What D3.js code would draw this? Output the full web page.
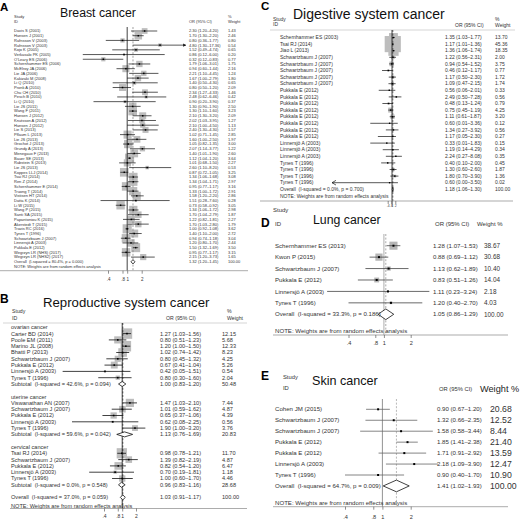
<!DOCTYPE html>
<html>
<head>
<meta charset="utf-8">
<script src="https://cdn.jsdelivr.net/npm/d3@7"></script>
<style>
  body { margin: 0; background: #fff; }
  text { font-family: "Liberation Sans", Arial, sans-serif; white-space: pre; }
</style>
</head>
<body>
<div id="chart"></div>
<script>
// ---- data ----
const orTicks = [0.4, 0.8, 1, 2];
const orTickLabels = [".4", ".8", "1", "2"];
const noteText = "NOTE: Weights are from random effects analysis";

// A  Breast cancer
const breastStudies = ["Davis S (2001)", "Hansen J (2001)", "Rafnsson V (2003)", "Rafnsson V (2003)", "Kojo K (2005)",
  "Verkasalo PK (2005)", "O'Leary ES (2006)", "Schernhammer ES (2006)", "McElroy JA (2006)", "Lie JA (2006)",
  "Kakizaki M (2008)", "Li Q (2010)", "Pronk A (2010)", "Chu CH (2010)", "Pesch B (2010)", "Li Q (2010)",
  "Lie JS (2011)", "Wang F (2011)", "Hansen J (2012)", "Knutsson A (2012)", "Hansen J (2012)", "Lie S (2013)",
  "Pflaum L (2013)", "Lie JS (2013)", "Grochot J (2013)", "Grundy A (2013)", "Menegaux F (2013)", "Bauer SE (2013)",
  "Rabstein S (2013)", "Lie JS (2013)", "Koppes LLJ (2014)", "Tsai RJ (2014)", "Ren Z (2014)",
  "Schernhammer E (2014)", "Truong T (2014)", "Vistisen HT (2014)", "Datta K (2014)", "Li W (2015)",
  "Wang P (2015)", "Santi SA (2015)", "Papantoniou K (2015)", "Akerstedt T (2015)", "Travis RC (2016)",
  "Tynes T (1996)", "Schwartzbaum J (2007)", "Linnersjö A (2003)", "Pukkala E (2012)",
  "Wegrzyn LR (NHS) (2017)", "Wegrzyn LR (NHS2) (2017)"];
const breastOR = [2.30, 1.70, 0.80, 4.80, 1.52, 0.86, 0.32, 1.79, 0.94, 2.21, 1.67, 1.40, 0.80, 2.34, 2.48, 0.90,
  1.30, 1.30, 2.10, 2.02, 2.10, 2.40, 1.02, 1.60, 1.05, 2.07, 1.40, 1.12, 1.01, 2.60, 0.87, 1.34, 1.34, 0.95,
  1.33, 1.58, 1.51, 0.73, 1.34, 1.70, 1.22, 1.70, 1.00, 1.40, 0.94, 1.20, 1.50, 0.95, 2.15];
const breastLo = [1.20, 1.30, 0.36, 1.30, 0.49, 0.12, 0.12, 1.06, 0.60, 1.10, 1.00, 0.50, 0.50, 1.27, 0.62, 0.20,
  0.90, 1.10, 1.30, 1.03, 1.00, 1.30, 0.71, 1.00, 0.82, 1.14, 1.01, 1.04, 0.68, 1.10, 0.72, 1.06, 1.04, 0.77,
  1.00, 1.20, 0.28, 0.58, 1.06, 1.04, 0.82, 1.03, 0.92, 1.10, 0.74, 0.80, 1.32, 0.77, 1.20];
const breastHi = [4.20, 2.20, 1.77, 17.36, 4.74, 6.00, 0.83, 3.01, 1.44, 4.45, 2.79, 4.30, 1.20, 4.33, 6.46, 3.90,
  1.90, 1.60, 3.20, 3.95, 4.50, 4.30, 1.45, 2.50, 1.35, 3.77, 1.90, 1.20, 1.50, 8.20, 1.05, 1.68, 1.71, 1.17,
  1.72, 2.20, 7.60, 0.92, 1.72, 2.79, 1.81, 2.80, 1.08, 2.00, 1.18, 1.70, 1.69, 1.17, 3.73];
const breastWeight = [1.43, 2.46, 0.80, 0.54, 0.65, 0.20, 0.77, 1.75, 2.16, 1.24, 1.80, 0.65, 2.09, 1.46, 0.42, 0.37,
  2.50, 3.23, 2.09, 1.27, 1.13, 1.57, 2.85, 1.97, 3.00, 1.22, 2.60, 3.64, 2.27, 0.53, 3.25, 3.08, 2.97, 3.16,
  2.91, 2.86, 0.28, 3.05, 2.98, 1.87, 2.27, 1.79, 3.62, 2.72, 3.04, 2.44, 3.50, 3.15, 1.65];
const breastOverallLabel = "Overall  (I-squared = 80.4%, p = 0.000)";
const breastOverall = [1.32, 1.20, 1.45, 100.00];

// B  Reproductive system cancer
const reproGroups = ["ovarian cancer", "uterine cancer", "cervical cancer"];
const reproGroupOf = [0, 0, 0, 0, 0, 0, 0, 0, 1, 1, 1, 1, 1, 2, 2, 2, 2, 2];
const reproStudies = ["Carter BD (2014)", "Poole EM (2011)", "Marino JL (2008)", "Bhatti P (2013)",
  "Schwartzbaum J (2007)", "Pukkala E (2012)", "Linnersjö A (2003)", "Tynes T (1996)",
  "Viswanathan AN (2007)", "Schwartzbaum J (2007)", "Pukkala E (2012)", "Linnersjö A (2003)", "Tynes T (1996)",
  "Tsai RJ (2014)", "Schwartzbaum J (2007)", "Pukkala E (2012)", "Linnersjö A (2003)", "Tynes T (1996)"];
const reproOR = [1.27, 0.80, 1.20, 1.02, 0.80, 0.67, 0.42, 0.80, 1.47, 1.01, 0.65, 0.62, 1.90, 0.98, 1.39, 0.82, 0.70, 1.00];
const reproLo = [1.03, 0.51, 1.00, 0.74, 0.45, 0.41, 0.05, 0.30, 1.03, 0.59, 0.37, 0.08, 1.00, 0.78, 0.82, 0.54, 0.19, 0.60];
const reproHi = [1.56, 1.23, 1.50, 1.42, 1.32, 1.04, 1.51, 1.60, 2.10, 1.62, 1.06, 2.25, 3.20, 1.21, 2.19, 1.20, 1.81, 1.70];
const reproWeight = [12.15, 5.68, 12.33, 8.23, 4.25, 5.26, 0.54, 2.04, 7.44, 4.87, 4.39, 0.56, 3.76, 11.70, 4.87, 6.47, 1.18, 4.46];
const reproSubLabels = ["Subtotal  (I-squared = 42.6%, p = 0.094)", "Subtotal  (I-squared = 59.6%, p = 0.042)",
  "Subtotal  (I-squared = 0.0%, p = 0.548)"];
const reproSubOR = [1.00, 1.13, 0.96];
const reproSubLo = [0.83, 0.76, 0.83];
const reproSubHi = [1.20, 1.69, 1.16];
const reproSubWeight = [50.48, 20.83, 28.68];
const reproOverallLabel = "Overall  (I-squared = 37.0%, p = 0.059)";
const reproOverall = [1.03, 0.91, 1.17, 100.00];

// C  Digestive system cancer
const digestStudies = ["Schernhammer ES (2003)", "Tsai RJ (2014)", "Jiao L (2013)", "Schwartzbaum J (2007)",
  "Schwartzbaum J (2007)", "Schwartzbaum J (2007)", "Schwartzbaum J (2007)", "Schwartzbaum J (2007)",
  "Pukkala E (2012)", "Pukkala E (2012)", "Pukkala E (2012)", "Pukkala E (2012)", "Pukkala E (2012)",
  "Pukkala E (2012)", "Pukkala E (2012)", "Pukkala E (2012)", "Linnersjö A (2003)", "Linnersjö A (2003)",
  "Linnersjö A (2003)", "Tynes T (1996)", "Tynes T (1996)", "Tynes T (1996)", "Tynes T (1996)"];
const digestOR = [1.35, 1.17, 1.36, 1.22, 0.94, 0.46, 1.17, 1.09, 0.56, 2.49, 0.48, 0.75, 1.11, 0.60, 1.34, 1.17,
  0.33, 1.19, 2.24, 0.40, 1.30, 1.80, 0.60];
const digestLo = [1.03, 1.01, 1.06, 0.56, 0.54, 0.12, 0.50, 0.47, 0.06, 0.50, 0.13, 0.45, 0.61, 0.01, 0.27, 0.05,
  0.01, 0.14, 0.27, 0.10, 0.60, 0.70, 0.00];
const digestHi = [1.77, 1.36, 1.74, 2.31, 1.52, 1.17, 2.30, 2.15, 2.01, 7.28, 1.24, 1.19, 1.87, 3.36, 3.92, 2.30,
  1.83, 4.29, 8.08, 2.00, 2.60, 3.90, 3.50];
const digestWeight = [13.70, 45.36, 18.35, 2.00, 3.75, 0.77, 1.72, 1.74, 0.33, 0.56, 0.79, 4.25, 3.20, 0.12, 0.56,
  0.27, 0.15, 0.34, 0.35, 0.45, 1.87, 1.36, 0.02];
const digestOverallLabel = "Overall  (I-squared = 0.0%, p = 0.700)";
const digestOverall = [1.18, 1.06, 1.30, 100.00];

// D  Lung cancer
const lungStudies = ["Schernhammer ES (2013)", "Kwon P (2015)", "Schwartzbaum J (2007)", "Pukkala E (2012)",
  "Linnersjö A (2003)", "Tynes T (1996)"];
const lungOR = [1.28, 0.88, 1.13, 0.83, 1.11, 1.20];
const lungLo = [1.07, 0.69, 0.62, 0.51, 0.23, 0.40];
const lungHi = [1.53, 1.12, 1.89, 1.26, 3.24, 2.70];
const lungWeight = [38.67, 30.68, 10.40, 14.04, 2.18, 4.03];
const lungOverallLabel = "Overall  (I-squared = 33.3%, p = 0.186)";
const lungOverall = [1.05, 0.86, 1.29, 100.00];

// E  Skin cancer
const skinStudies = ["Cohen JM (2015)", "Schwartzbaum J (2007)", "Schwartzbaum J (2007)", "Pukkala E (2012)",
  "Pukkala E (2012)", "Linnersjö A (2003)", "Tynes T (1996)"];
const skinOR = [0.90, 1.32, 1.58, 1.85, 1.71, 2.18, 0.90];
const skinLo = [0.67, 0.66, 0.58, 1.41, 0.91, 1.09, 0.40];
const skinHi = [1.20, 2.35, 3.44, 2.38, 2.92, 3.90, 1.70];
const skinWeight = [20.68, 12.52, 8.44, 21.40, 13.59, 12.47, 10.90];
const skinOverallLabel = "Overall  (I-squared = 64.7%, p = 0.009)";
const skinOverall = [1.41, 1.02, 1.93, 100.00];

// ---- row builders ----
function studyRows(names, or, lo, hi, w) {
  return names.map((n, i) => ({ type: "study", label: n, or: or[i], lo: lo[i], hi: hi[i], w: w[i] }));
}
function overallRow(label, v) {
  return { type: "overall", label: label, or: v[0], lo: v[1], hi: v[2], w: v[3] };
}

const breastRows = studyRows(breastStudies, breastOR, breastLo, breastHi, breastWeight)
  .concat([overallRow(breastOverallLabel, breastOverall)]);

let reproRows = [];
reproGroups.forEach((gname, gi) => {
  reproRows.push({ type: "heading", label: gname });
  reproStudies.forEach((n, i) => {
    if (reproGroupOf[i] === gi)
      reproRows.push({ type: "study", label: n, or: reproOR[i], lo: reproLo[i], hi: reproHi[i], w: reproWeight[i] });
  });
  reproRows.push({ type: "subtotal", label: reproSubLabels[gi], or: reproSubOR[gi], lo: reproSubLo[gi],
    hi: reproSubHi[gi], w: reproSubWeight[gi] });
  reproRows.push({ type: "blank" });
});
reproRows.push(overallRow(reproOverallLabel, reproOverall));

const digestRows = studyRows(digestStudies, digestOR, digestLo, digestHi, digestWeight)
  .concat([overallRow(digestOverallLabel, digestOverall)]);
const lungRows = studyRows(lungStudies, lungOR, lungLo, lungHi, lungWeight)
  .concat([overallRow(lungOverallLabel, lungOverall)]);
const skinRows = studyRows(skinStudies, skinOR, skinLo, skinHi, skinWeight)
  .concat([overallRow(skinOverallLabel, skinOverall)]);

// ---- panel layouts ----
const panels = [
  { rows: breastRows, letter: ["A", 0, 11, 11.5], title: ["Breast cancer", 60, 17, 12.3],
    head: [["Study", 14, 16.5], ["ID", 14, 21.5], ["OR (95% CI)", 189, 21.5], ["%", 228, 16.5], ["Weight", 228, 21.5]],
    headSize: 4, font: 4, studyX: 14, orX: 189, wX: 228, wFont: 4, rowY0: 31, rowStep: 4.71,
    scale: [0.4, 108, 2, 141.7], clip: [78, 186], vTop: 27, noteY: 267,
    axis: { y: 270.7, x0: 0, x1: 248, labelY: 279.5, size: 4.5 },
    boxK: 4.8, boxFill: "#bdbdbd", ci: "#111", ciW: 0.7, nullC: "#111", dashC: "#777", pt: 1.5, diaH: 4.3, text: "#333" },
  { rows: reproRows, letter: ["B", 0, 303, 12], title: ["Reproductive system cancer", 43, 307, 13.2],
    head: [["Study", 12, 311], ["ID", 12, 318], ["OR (95% CI)", 166, 318], ["%", 227, 311], ["Weight", 227, 318]],
    headSize: 5.2, font: 5.6, studyX: 11, orX: 160, wX: 222, wFont: 5.6, rowY0: 327.3, rowStep: 6.3,
    scale: [0.4, 104, 2, 136], clip: [55, 200], vTop: 323, noteY: 506.3, headLine: [3, 247, 323],
    axis: { y: 508.5, x0: 10, x1: 247, labelY: 516.5, size: 5 },
    boxK: 3, boxFill: "#bdbdbd", ci: "#111", ciW: 0.8, nullC: "#111", dashC: "#222", pt: 1.6, diaH: 5, text: "#333" },
  { rows: digestRows, letter: ["C", 261, 10, 11.5], title: ["Digestive system cancer", 293, 18.5, 14],
    head: [["Study", 273, 19.5], ["ID", 273, 24.5], ["OR (95% CI)", 455, 25], ["%", 495, 19], ["Weight", 495, 25]],
    headSize: 5, font: 5, studyX: 280, orX: 445, wX: 495, wFont: 5, rowY0: 37.5, rowStep: 6.6,
    scale: [0.4, 387.7, 2, 395.3], clip: [332, 450], vTop: 30, noteY: 196, headLine: [270, 515, 30],
    axis: { y: 201, x0: 260, x1: 513, labelY: 205.5, size: 3.4 },
    boxK: 2.4, boxFill: "#bdbdbd", ci: "#111", ciW: 0.7, nullC: "#111", dashC: "#333", pt: 1.4, diaH: 5, text: "#333" },
  { rows: lungRows, letter: ["D", 261, 227, 12], title: ["Lung cancer", 313, 224, 12.3],
    head: [["Study", 273, 210], ["ID", 275, 224], ["OR (95% CI)", 435, 224], ["Weight %", 477, 224]],
    headSize: 6, font: 6.1, studyX: 275, orX: 433, wX: 484, wFont: 6.4, rowY0: 245.7, rowStep: 11.43,
    scale: [0.4, 348.5, 2, 410.7], clip: [300, 470], vTop: 234, noteY: 331,
    axis: { y: 335, x0: 273, x1: 508, labelY: 343, size: 5.6 },
    boxK: 1.3, boxFill: "#b5b5b5", ci: "#444", ciW: 0.8, nullC: "#999", dashC: "#888", pt: 2, diaH: 10.7, text: "#333" },
  { rows: skinRows, letter: ["E", 261, 380, 12], title: ["Skin cancer", 312, 384.5, 12.6],
    head: [["Study", 283, 377], ["ID", 283, 388], ["OR (95% CI)", 439, 389]],
    headBig: ["Weight %", 480, 389, 9.2],
    headSize: 5.8, font: 6.1, studyX: 275, orX: 437, wX: 490, wFont: 8.7, rowY0: 409.3, rowStep: 10.95,
    scale: [0.4, 345, 2, 410.7], clip: [300, 470], vTop: 399, noteY: 503.3,
    axis: { y: 506.7, x0: 273, x1: 508, labelY: 516.7, size: 5.6 },
    boxK: 0, boxFill: "#bdbdbd", ci: "#666", ciW: 0.8, nullC: "#777", dashC: "#999", pt: 2, diaH: 11.7, text: "#333" }
];

const svg = d3.select("#chart").append("svg").attr("width", 520).attr("height", 519);
const f2 = d3.format(".2f");

function label(g, str, x, y, size, color) {
  return g.append("text").attr("x", x).attr("y", y).attr("dy", "0.35em")
    .attr("font-size", size).attr("fill", color).text(str);
}

function drawPanel(p) {
  const g = svg.append("g");
  const x = d3.scaleLog().domain([p.scale[0], p.scale[2]]).range([p.scale[1], p.scale[3]]);
  const cx = v => (v > 0 ? Math.max(p.clip[0], Math.min(p.clip[1], x(v))) : p.clip[0]);
  const ry = i => p.rowY0 + i * p.rowStep;
  const rows = p.rows.map((r, i) => Object.assign({ y: ry(i) }, r));
  const studies = rows.filter(r => r.type === "study");
  const overall = rows.find(r => r.type === "overall");

  // letter and title
  g.append("text").attr("x", p.letter[1]).attr("y", p.letter[2]).attr("font-size", p.letter[3])
    .attr("font-weight", "bold").attr("fill", "#000").text(p.letter[0]);
  g.append("text").attr("x", p.title[1]).attr("y", p.title[2]).attr("font-size", p.title[3])
    .attr("fill", "#111").text(p.title[0]);
  p.head.forEach(h => label(g, h[0], h[1], h[2], p.headSize, p.text));
  if (p.headBig) label(g, p.headBig[0], p.headBig[1], p.headBig[2], p.headBig[3], "#222");
  if (p.headLine) g.append("line").attr("x1", p.headLine[0]).attr("x2", p.headLine[1])
    .attr("y1", p.headLine[2]).attr("y2", p.headLine[2]).attr("stroke", "#bbb").attr("stroke-width", 0.6);

  // weight boxes
  if (p.boxK > 0) {
    g.selectAll("rect.box").data(studies).join("rect").attr("class", "box")
      .attr("x", d => x(d.or) - p.boxK * Math.sqrt(d.w) / 2)
      .attr("y", d => d.y - p.boxK * Math.sqrt(d.w) / 2)
      .attr("width", d => p.boxK * Math.sqrt(d.w))
      .attr("height", d => p.boxK * Math.sqrt(d.w))
      .attr("fill", p.boxFill);
  }

  // null line and overall dashed line
  g.append("line").attr("x1", x(1)).attr("x2", x(1)).attr("y1", p.vTop).attr("y2", p.axis.y)
    .attr("stroke", p.nullC).attr("stroke-width", 0.8);
  g.append("line").attr("x1", x(overall.or)).attr("x2", x(overall.or)).attr("y1", p.vTop).attr("y2", p.axis.y)
    .attr("stroke", p.dashC).attr("stroke-width", 0.7).attr("stroke-dasharray", "2,1.6");

  // confidence intervals
  g.selectAll("line.ci").data(studies).join("line").attr("class", "ci")
    .attr("x1", d => cx(d.lo)).attr("x2", d => cx(d.hi))
    .attr("y1", d => d.y).attr("y2", d => d.y)
    .attr("stroke", p.ci).attr("stroke-width", p.ciW);
  const ah = p.rowStep * 0.35, al = p.rowStep * 0.6;
  studies.forEach(d => {
    if (!(d.lo > 0) || x(d.lo) < p.clip[0]) {
      const t = p.clip[0];
      g.append("path").attr("d", `M${t},${d.y}L${t + al},${d.y - ah}M${t},${d.y}L${t + al},${d.y + ah}`)
        .attr("stroke", p.ci).attr("stroke-width", p.ciW).attr("fill", "none");
    }
    if (x(d.hi) > p.clip[1]) {
      const t = p.clip[1];
      g.append("path").attr("d", `M${t},${d.y}L${t - al},${d.y - ah}L${t - al},${d.y + ah}Z`)
        .attr("fill", p.ci);
    }
  });
  g.selectAll("rect.pt").data(studies).join("rect").attr("class", "pt")
    .attr("x", d => x(d.or) - p.pt / 2).attr("y", d => d.y - p.pt / 2)
    .attr("width", p.pt).attr("height", p.pt).attr("fill", "#000");

  // pooled diamonds
  const pooled = rows.filter(r => r.type === "overall" || r.type === "subtotal");
  g.selectAll("path.dia").data(pooled).join("path").attr("class", "dia")
    .attr("d", d => `M${x(d.lo)},${d.y}L${x(d.or)},${d.y - p.diaH / 2}L${x(d.hi)},${d.y}L${x(d.or)},${d.y + p.diaH / 2}Z`)
    .attr("fill", "#fff").attr("stroke", "#111").attr("stroke-width", 0.8);

  // text columns
  rows.forEach(d => {
    if (d.type === "blank") return;
    label(g, d.label, p.studyX, d.y, p.font, p.text);
    if (d.type === "heading") return;
    label(g, `${f2(d.or)} (${f2(d.lo)}\u2013${f2(d.hi)})`, p.orX, d.y, p.font, p.text);
    label(g, f2(d.w), p.wX, d.y, p.wFont, p.text);
  });
  label(g, noteText, p.studyX, p.noteY, p.font, p.text);

  // x axis
  g.append("line").attr("x1", p.axis.x0).attr("x2", p.axis.x1).attr("y1", p.axis.y).attr("y2", p.axis.y)
    .attr("stroke", "#888").attr("stroke-width", 0.7);
  const ax = g.append("g").attr("transform", `translate(0,${p.axis.y})`)
    .call(d3.axisBottom(x).tickValues(orTicks).tickFormat((d, i) => orTickLabels[i]).tickSize(3));
  ax.select(".domain").remove();
  ax.selectAll("line").attr("stroke", "#444").attr("stroke-width", 0.6);
  ax.selectAll("text").attr("y", p.axis.labelY - p.axis.y).attr("dy", "0.35em")
    .attr("font-size", p.axis.size).attr("fill", "#333")
    .attr("font-family", "Liberation Sans, Arial, sans-serif");
}

panels.forEach(drawPanel);
</script>
</body>
</html>
